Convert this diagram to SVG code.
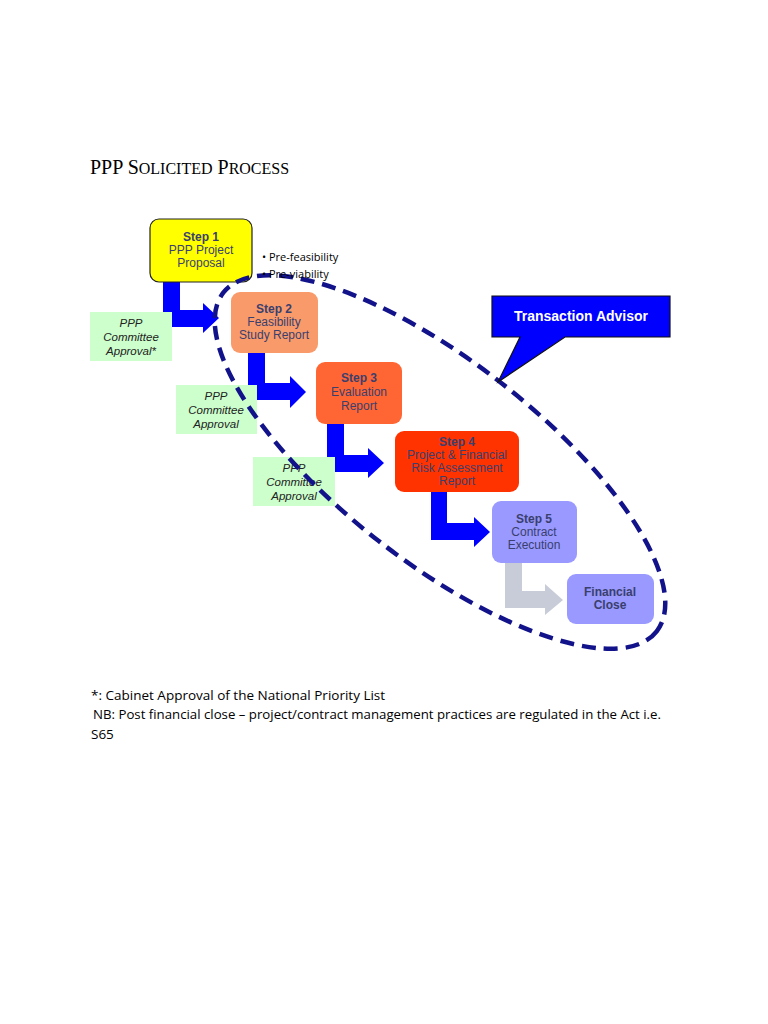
<svg xmlns="http://www.w3.org/2000/svg" width="768" height="1024" viewBox="0 0 768 1024">
<style>
.box{stroke:none}
.t{font-family:"Liberation Sans",Arial,sans-serif;font-size:12px;fill:#3a3f6e;text-anchor:middle}
.b{font-weight:bold}
.g{fill:#ccffcc}
.gt{font-family:"Liberation Sans",Arial,sans-serif;font-size:11.5px;font-style:italic;fill:#222;text-anchor:middle}
.arr{fill:#0000ff}
.txt{font-family:"Open Sans","Liberation Sans",sans-serif;fill:#000}
</style>
<rect width="768" height="1024" fill="#fff"/>
<text x="90" y="174" font-family="Liberation Serif,serif" font-size="20" fill="#000">PPP S<tspan font-size="16">OLICITED</tspan> P<tspan font-size="16">ROCESS</tspan></text>
<g id="connectors">
<path class="arr" d="M163,282H180V310H203V303L219,318L203,333V327H163Z"/>
<path class="arr" d="M248,353H265V383H290V376L306,392L290,408V400H248Z"/>
<path class="arr" d="M327,424H344V455H368V448L384,463L368,478V472H327Z"/>
<path class="arr" d="M431,492H447V523H474V517L490,532L474,547V540H431Z"/>
<path fill="#c8ccd8" d="M505,563H522V591H545V584L563,600L545,615V608H505Z"/>
</g>
<g id="notes">
<rect class="g" x="90" y="312" width="82" height="49"/>
<text class="gt" x="131" y="327">PPP<tspan x="131" dy="14">Committee</tspan><tspan x="131" dy="14">Approval*</tspan></text>
<rect class="g" x="176" y="385" width="81" height="49"/>
<text class="gt" x="216" y="400">PPP<tspan x="216" dy="14">Committee</tspan><tspan x="216" dy="14">Approval</tspan></text>
<rect class="g" x="253" y="457" width="82" height="49"/>
<text class="gt" x="294" y="472">PPP<tspan x="294" dy="14">Committee</tspan><tspan x="294" dy="14">Approval</tspan></text>
</g>
<g id="step1">
<rect x="150" y="219" width="102" height="63" rx="9" fill="#ffff00" stroke="#222" stroke-width="1.2"/>
<text class="t" x="201" y="241"><tspan class="b">Step 1</tspan><tspan x="201" dy="13">PPP Project</tspan><tspan x="201" dy="13">Proposal</tspan></text>
</g>
<g id="step2">
<rect x="231" y="292" width="87" height="61" rx="9" fill="#f99a6b"/>
<text class="t" x="274" y="313"><tspan class="b">Step 2</tspan><tspan x="274" dy="13">Feasibility</tspan><tspan x="274" dy="13">Study Report</tspan></text>
</g>
<g id="step3">
<rect x="316" y="362" width="86" height="62" rx="9" fill="#ff6633"/>
<text class="t" x="359" y="382"><tspan class="b">Step 3</tspan><tspan x="359" dy="14">Evaluation</tspan><tspan x="359" dy="14">Report</tspan></text>
</g>
<g id="step4">
<rect x="395" y="431" width="124" height="61" rx="9" fill="#ff3300"/>
<text class="t" x="457" y="446"><tspan class="b">Step 4</tspan><tspan x="457" dy="13">Project &amp; Financial</tspan><tspan x="457" dy="13">Risk Assessment</tspan><tspan x="457" dy="13">Report</tspan></text>
</g>
<g id="step5">
<rect x="492" y="501" width="85" height="62" rx="9" fill="#9999ff"/>
<text class="t" x="534" y="523"><tspan class="b">Step 5</tspan><tspan x="534" dy="13">Contract</tspan><tspan x="534" dy="13">Execution</tspan></text>
</g>
<g id="close">
<rect x="567" y="574" width="87" height="50" rx="9" fill="#9999ff"/>
<text class="t b" x="610" y="596">Financial<tspan x="610" dy="13">Close</tspan></text>
</g>
<ellipse cx="440" cy="462" rx="275" ry="100" transform="rotate(38 440 462)" fill="none" stroke="#12128a" stroke-width="4.5" stroke-dasharray="14 8"/>
<g id="advisor">
<path d="M492,296H670V337H565L498,382L520,337H492Z" fill="#0000ff" stroke="#111" stroke-width="1.2"/>
<text x="581" y="321" font-family="Liberation Sans,Arial,sans-serif" font-size="14" font-weight="bold" fill="#fff" text-anchor="middle">Transaction Advisor</text>
</g>
<text class="txt" x="262" y="261" font-size="11">• Pre-feasibility</text>
<text class="txt" x="262" y="278" font-size="11">• Pre-viability</text>
<text class="txt" x="91" y="700" font-size="13.5">*: Cabinet Approval of the National Priority List</text>
<text class="txt" x="93" y="719" font-size="13.5" textLength="568" lengthAdjust="spacingAndGlyphs">NB: Post financial close – project/contract management practices are regulated in the Act i.e.</text>
<text class="txt" x="91" y="739" font-size="13.5">S65</text>
</svg>
